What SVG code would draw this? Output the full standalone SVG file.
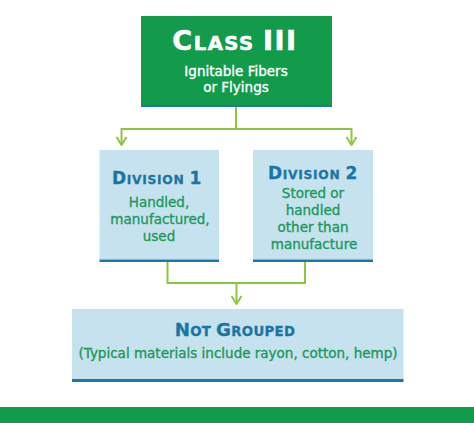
<svg xmlns="http://www.w3.org/2000/svg" width="474" height="423" viewBox="0 0 474 423">
<style>
.green{fill:#119b4a}
.lb{fill:#c6e2ef}
.bar{fill:#1f78a4}
.conn{stroke:#8cc63f;stroke-width:2;fill:none}
.h{font-family:"DejaVu Sans","Noto Sans",sans-serif;font-weight:bold;text-anchor:middle}
.t{font-family:"DejaVu Sans","Noto Sans",sans-serif;font-weight:normal;text-anchor:middle;font-size:13.5px;stroke-width:0.35px}
.white{fill:#ffffff}
.t.white{stroke:#ffffff}
.h.white{stroke:#ffffff;stroke-width:0.6px}
.blue{fill:#1b75a2}
.h.blue{stroke:#1b75a2;stroke-width:0.3px}
.gt{fill:#20995a;stroke:#20995a}
</style>
<defs>
<marker id="arr" markerUnits="userSpaceOnUse" markerWidth="12" markerHeight="12" viewBox="0 0 12 12" refX="11" refY="6" orient="auto">
<path d="M3,1 L11,6 L3,11" fill="none" stroke="#8cc63f" stroke-width="2"/>
</marker>
</defs>
<rect x="0" y="0" width="474" height="423" fill="#ffffff"/>
<g id="connectors">
<path class="conn" d="M236,107 V129"/>
<path class="conn" d="M121.5,129 H351.5"/>
<path class="conn" d="M121.5,128 V145" marker-end="url(#arr)"/>
<path class="conn" d="M351.5,128 V145" marker-end="url(#arr)"/>
<path class="conn" d="M167.5,262 V283 H305 V262"/>
<path class="conn" d="M236.5,283 V304" marker-end="url(#arr)"/>
</g>
<g id="class3">
<rect class="green" x="141" y="16" width="191" height="89"/>
<rect class="bar" x="141" y="105" width="191" height="2"/>
<text class="h white" x="235" y="49.5" letter-spacing="1.5"><tspan font-size="27">C</tspan><tspan font-size="19.6">LASS </tspan><tspan font-size="27">III</tspan></text>
<text class="t white" x="236" y="75.5">Ignitable Fibers</text>
<text class="t white" x="236" y="92">or Flyings</text>
</g>
<g id="division1">
<rect class="lb" x="99.5" y="150" width="119.5" height="109.5"/>
<rect class="bar" x="99.5" y="259.5" width="119.5" height="2.5"/>
<text class="h blue" x="157" y="184" letter-spacing="0.7"><tspan font-size="17">D</tspan><tspan font-size="12.3">IVISION </tspan><tspan font-size="17">1</tspan></text>
<text class="t gt" x="159" y="206.5">Handled,</text>
<text class="t gt" x="160" y="223.5">manufactured,</text>
<text class="t gt" x="159" y="241">used</text>
</g>
<g id="division2">
<rect class="lb" x="253" y="150" width="120" height="109.5"/>
<rect class="bar" x="253" y="259.5" width="120" height="2.5"/>
<text class="h blue" x="313" y="179" letter-spacing="0.7"><tspan font-size="17">D</tspan><tspan font-size="12.3">IVISION </tspan><tspan font-size="17">2</tspan></text>
<text class="t gt" x="313" y="197.5">Stored or</text>
<text class="t gt" x="313" y="215">handled</text>
<text class="t gt" x="313" y="231.5">other than</text>
<text class="t gt" x="314" y="249">manufacture</text>
</g>
<g id="notgrouped">
<rect class="lb" x="72" y="309" width="331.5" height="70"/>
<rect class="bar" x="72" y="379" width="331.5" height="3"/>
<text class="h blue" x="235" y="335.5" letter-spacing="0.3"><tspan font-size="18.2">N</tspan><tspan font-size="13.3">OT </tspan><tspan font-size="18.2">G</tspan><tspan font-size="13.3">ROUPED</tspan></text>
<text class="t gt" x="238" y="357.5">(Typical materials include rayon, cotton, hemp)</text>
</g>
<rect id="band" class="green" x="0" y="407" width="474" height="16"/>
</svg>
